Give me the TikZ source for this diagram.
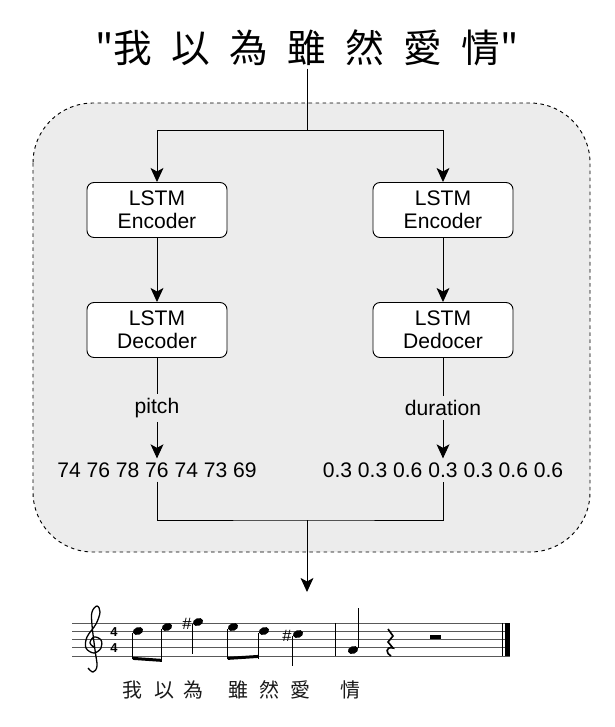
\documentclass[tikz,border=0pt]{standalone}
\usepackage{fontspec}
\setmainfont{Liberation Sans}
\newfontfamily\cjk{Noto Sans CJK TC}
\usetikzlibrary{positioning,arrows.meta,shapes.geometric}

\tikzset{
	lstm/.style = {draw, thick, rounded corners = 6pt, fill = white, minimum width = 4.2cm, minimum height = 1.65cm, align = center, font = \fontsize{18}{20}\selectfont},
	seq/.style = {font = \fontsize{18}{20}\selectfont},
	flow/.style = {thick, -{Stealth[length = 12pt, width = 11pt, inset = 3pt]}},
	staffline/.style = {gray!70!black, line width = 0.6pt},
	head/.style = {ellipse, fill = black, inner sep = 0pt, minimum width = 9pt, minimum height = 6.5pt, rotate = 20}
}

\begin{document}
\begin{tikzpicture}[x = 0.03cm, y = -0.03cm]
\useasboundingbox (0,0) rectangle (614,727);

% outer box
\draw[dashed, thick, fill = gray!15, rounded corners = 1.8cm] (33,103) rectangle (590,552);

\node[font = \cjk\fontsize{33}{36}\selectfont, inner sep = 2pt] (title) at (307,48) {"我\enspace 以\enspace 為\enspace 雖\enspace 然\enspace 愛\enspace 情"};

\node[lstm] (encL) at (157,210) {LSTM\\Encoder};
\node[lstm] (encR) at (443,210) {LSTM\\Encoder};
\node[lstm] (decL) at (157,330) {LSTM\\Decoder};
\node[lstm] (decR) at (443,330) {LSTM\\Dedocer};

\node[seq] (pitch) at (157,408) {pitch};
\node[seq] (dur) at (443,408) {duration};
\node[seq] (numL) at (157,470) {74 76 78 76 74 73 69};
\node[seq] (numR) at (443,470) {0.3 0.3 0.6 0.3 0.3 0.6 0.6};

\coordinate (split) at (307,130);
\coordinate (join) at (307,520);
\coordinate (score) at (307,592);

\draw[thick] (title.south) -- (split);
\draw[flow] (split) -| (encL);
\draw[flow] (split) -| (encR);
\draw[flow] (encL) -- (decL);
\draw[flow] (encR) -- (decR);
\draw[thick] (decL) -- (pitch);
\draw[thick] (decR) -- (dur);
\draw[flow] (pitch) -- (numL);
\draw[flow] (dur) -- (numR);
\draw[thick] (numL) |- (join) -| (numR);
\draw[flow] (join) -- (score);

% staff
\foreach \k in {0,...,4}
	\draw[staffline] (72,623+8.25*\k) -- (510,623+8.25*\k);
\draw[thick] (335,623) -- (335,656);
\draw[line width = 0.6pt] (502,623) -- (502,656);
\fill (505,623) rectangle (510,656);
% treble clef
\draw[line width = 1.1pt] plot[smooth, tension = 0.6] coordinates {(95,648) (90,643) (94,637) (101,640) (101,648) (94,653) (86,648) (87,637) (96,624) (100,612) (97,606) (92,612) (92,625) (95,650) (97,666) (93,672) (88,668)};
\node[font = \bfseries\fontsize{11}{11}\selectfont, inner sep = 0pt] (meterA) at (114,632) {4};
\node[font = \bfseries\fontsize{11}{11}\selectfont, inner sep = 0pt] (meterB) at (114,648) {4};

% notes
\node[head] (n1) at (138,631) {};
\node[head] (n2) at (167,627) {};
\node[head] (n3) at (198,622) {};
\node[head] (n4) at (233,627) {};
\node[head] (n5) at (264,631) {};
\node[head] (n6) at (298,634) {};
\node[head] (n7) at (353,650) {};
\draw[line width = 0.6pt] (n1.west) -- ++(0,26);
\draw[line width = 0.6pt] (n2.west) -- ++(0,30);
\fill (n1.west) ++(0,24) -- ++(29,2) -- ++(0,3) -- ++(-29,-2) -- cycle;
\draw[line width = 0.6pt] (n4.west) -- ++(0,30);
\draw[line width = 0.6pt] (n5.west) -- ++(0,26);
\fill (n4.west) ++(0,28) -- ++(31,-2) -- ++(0,3) -- ++(-31,2) -- cycle;
\draw[line width = 0.6pt] (n3.west) -- ++(0,30);
\draw[line width = 0.6pt] (n6.west) -- ++(0,30);
\draw[line width = 0.6pt] (n7.east) -- ++(0,-40);
\node[font = \fontsize{14}{14}\selectfont, inner sep = 0pt, left = 1pt of n3] (sh1) {\#};
\node[font = \fontsize{14}{14}\selectfont, inner sep = 0pt, left = 1pt of n6] (sh2) {\#};

% rests
\draw[line width = 1.4pt] (388,629) -- (393,636) -- (388,642) -- (393,648) .. controls (385,646) and (386,654) .. (391,656);
\fill (430,635) rectangle (441,639);

% lyrics
\foreach \x/\c in {132/我, 164/以, 193/為, 238/雖, 269/然, 300/愛, 350/情}
	\node[font = \cjk\fontsize{17}{17}\selectfont, gray!20!black] at (\x,690) {\c};
\end{tikzpicture}
\end{document}
